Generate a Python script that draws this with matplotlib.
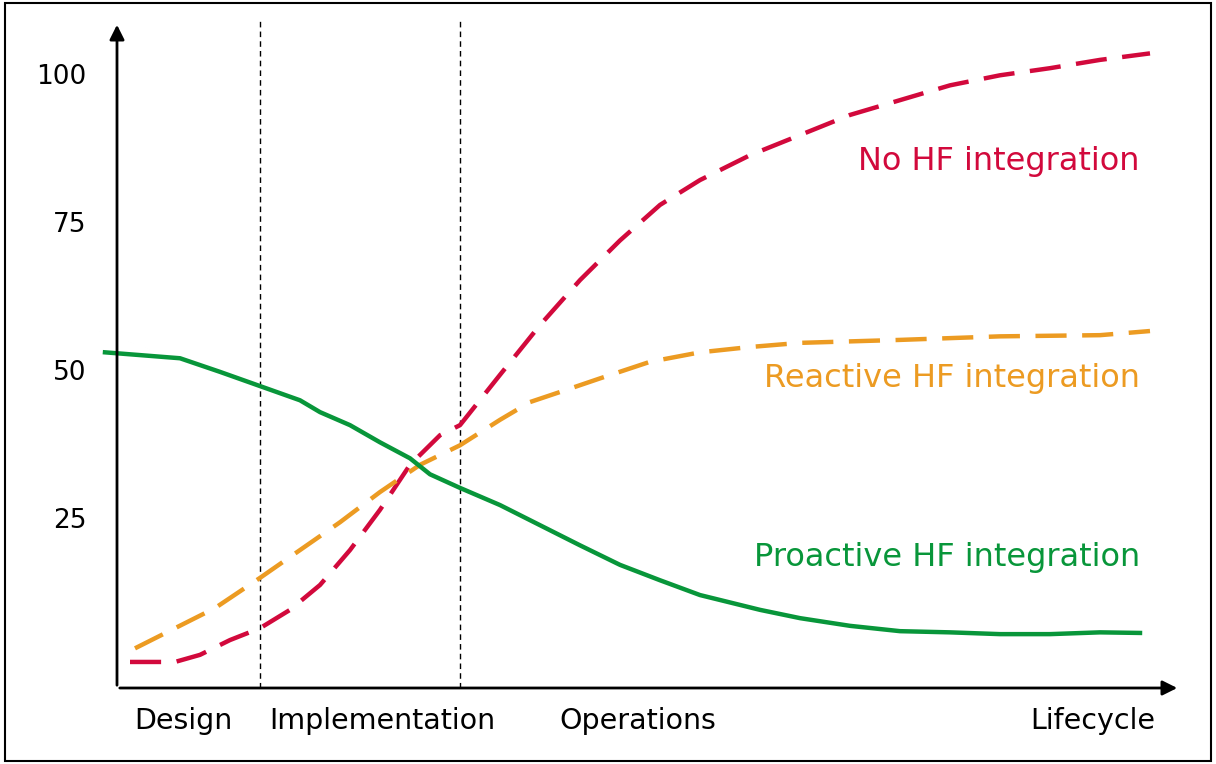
import matplotlib.pyplot as plt
from matplotlib.patches import Rectangle

# x positions along lifecycle (horizontal pixel-like units), y in 0..100 scale
red_x = [130, 175, 200, 230, 260, 290, 320, 350, 380, 410, 440, 460, 500, 540, 580, 620, 660, 700,
         750, 800, 850, 900, 950, 1000, 1050, 1100, 1150]
red_y = [0.7, 0.7, 1.9, 4.4, 6.4, 9.5, 13.7, 19.6, 26.4, 34.0, 39.0, 40.7, 49.2, 57.6, 65.2, 71.9,
         77.9, 82.1, 86.3, 89.7, 93.1, 95.6, 98.1, 99.8, 101.0, 102.4, 103.5]

orange_x = [135, 175, 215, 260, 300, 340, 380, 420, 460, 500, 530, 560, 600, 650, 700, 750, 800,
            900, 1000, 1100, 1150]
orange_y = [3.0, 6.4, 9.8, 14.9, 19.6, 24.3, 29.4, 34.0, 37.3, 41.6, 44.6, 46.3, 48.6, 51.4, 53.0,
            53.9, 54.6, 55.1, 55.7, 55.9, 56.6]

green_x = [105, 180, 220, 260, 300, 320, 350, 380, 410, 430, 460, 500, 540, 580, 620, 660, 700,
           760, 800, 850, 900, 950, 1000, 1050, 1100, 1140]
green_y = [53.0, 52.0, 49.7, 47.3, 44.9, 42.9, 40.7, 37.8, 35.1, 32.4, 30.1, 27.2, 23.8, 20.4, 17.1,
           14.5, 12.0, 9.5, 8.1, 6.8, 5.9, 5.7, 5.4, 5.4, 5.7, 5.6]

yticks = [25, 50, 75, 100]
phase_lines = [260, 460]
phases = [("Design", 183), ("Implementation", 382), ("Operations", 638), ("Lifecycle", 1093)]

RED, ORANGE, GREEN = '#d2093c', '#ec9b22', '#08963a'

fig = plt.figure(figsize=(12.16, 7.64), dpi=100)
fig.patches.append(Rectangle((0.004, 0.004), 0.992, 0.992, transform=fig.transFigure,
                             fill=False, edgecolor='black', linewidth=1.5))
ax = fig.add_axes([117 / 1216, 76 / 764, 1063 / 1216, 666 / 764])
ax.set_xlim(117, 1180)
ax.set_ylim(-3.7, 108.8)
for s in ax.spines.values():
    s.set_visible(False)
ax.set_xticks([])
ax.set_yticks(yticks)
ax.set_yticklabels([str(t) for t in yticks], fontsize=19)
ax.tick_params(axis='y', length=0, pad=22)

# axes with arrows
ax.annotate('', xy=(1180, -3.7), xytext=(117, -3.7), annotation_clip=False,
            arrowprops=dict(arrowstyle='-|>', lw=2, color='black', mutation_scale=22))
ax.annotate('', xy=(117, 108.8), xytext=(117, -3.7), annotation_clip=False,
            arrowprops=dict(arrowstyle='-|>', lw=2, color='black', mutation_scale=22))

for x in phase_lines:
    ax.plot([x, x], [-3.7, 109.5], color='black', lw=1, ls=(0, (4, 3)), clip_on=False)

ax.plot(red_x, red_y, color=RED, lw=3.2, dashes=(7, 3.5), clip_on=False)
ax.plot(orange_x, orange_y, color=ORANGE, lw=3.2, dashes=(7, 3.5), clip_on=False)
ax.plot(green_x, green_y, color=GREEN, lw=3.2, clip_on=False)

ax.text(1140, 85.2, 'No HF integration', color=RED, fontsize=23, ha='right', va='center')
ax.text(1140, 48.6, 'Reactive HF integration', color=ORANGE, fontsize=23, ha='right', va='center')
ax.text(1140, 18.4, 'Proactive HF integration', color=GREEN, fontsize=23, ha='right', va='center')

for name, x in phases:
    ax.text(x, -9.2, name, fontsize=20.5, ha='center', va='center', clip_on=False)

fig.savefig('out.png', dpi=100)
